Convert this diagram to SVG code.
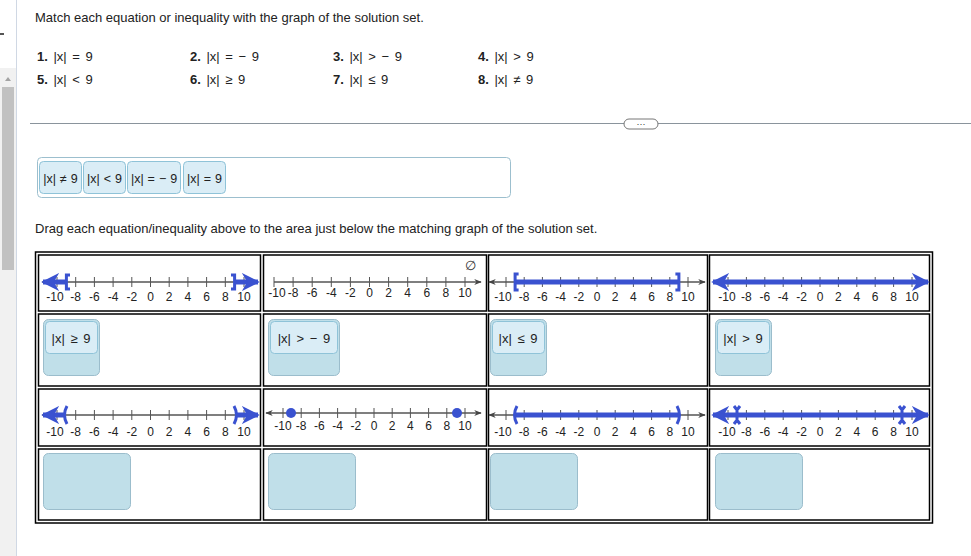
<svg xmlns="http://www.w3.org/2000/svg" width="971" height="556" viewBox="0 0 971 556">
<style>
text{font-family:"Liberation Sans",Arial,sans-serif;fill:#222}
.t{font-size:13px}
.e{font-size:13px;word-spacing:2px}
.c{font-size:12.5px;word-spacing:0.5px}
.b{font-weight:bold}
.lab{font-size:12px;fill:#444;text-anchor:middle}
.cell{fill:#fff;stroke:#000;stroke-width:1.5}
.ax{stroke:#555;stroke-width:1.5}
.tk{stroke:#555;stroke-width:1}
.bl{stroke:#3a52d0;stroke-width:5}
.blt{stroke:#3a52d0;stroke-width:3;fill:none}
.card{fill:#daedf6;stroke:#8fc3d8;stroke-width:1}
.slot{fill:#c0dfe9;stroke:#9bbdcc;stroke-width:1}
</style>
<defs>
<marker id="ga" viewBox="0 0 10 10" refX="9" refY="5" markerWidth="5" markerHeight="5" orient="auto-start-reverse"><path d="M0,1 L10,5 L0,9 L3,5z" fill="#444"/></marker>
<marker id="ba" viewBox="0 0 10 10" refX="9" refY="5" markerWidth="3.6" markerHeight="3.6" orient="auto-start-reverse"><path d="M0,0 L10,5 L0,10 L3,5z" fill="#3a52d0"/></marker>
</defs>
<rect width="971" height="556" fill="#fff"/>
<rect x="0" y="68" width="16" height="488" fill="#f1f1f1"/>
<line x1="16.5" y1="0" x2="16.5" y2="556" stroke="#d0d8e4"/>
<rect x="2" y="87" width="12" height="183" fill="#c1c1c1"/>
<path d="M5,81 L8,77 L11,81z" fill="#a3a3a3"/>
<line x1="0" y1="34" x2="4" y2="34" stroke="#555" stroke-width="2"/>

<text class="t" x="35" y="22">Match each equation or inequality with the graph of the solution set.</text>
<g class="e">
<text x="37" y="61"><tspan class="b">1.</tspan> |x| = 9</text>
<text x="190" y="61"><tspan class="b">2.</tspan> |x| = − 9</text>
<text x="333" y="61"><tspan class="b">3.</tspan> |x| &gt; − 9</text>
<text x="478" y="61"><tspan class="b">4.</tspan> |x| &gt; 9</text>
<text x="37" y="84"><tspan class="b">5.</tspan> |x| &lt; 9</text>
<text x="190" y="84"><tspan class="b">6.</tspan> |x| ≥ 9</text>
<text x="333" y="84"><tspan class="b">7.</tspan> |x| ≤ 9</text>
<text x="478" y="84"><tspan class="b">8.</tspan> |x| ≠ 9</text>
</g>
<line x1="30" y1="123.5" x2="971" y2="123.5" stroke="#8a949c"/>
<rect x="624" y="119" width="34" height="10" rx="5" fill="#fff" stroke="#777"/>
<text x="641" y="127" font-size="9" text-anchor="middle" style="fill:#333">···</text>

<g id="bank">
<rect x="37.5" y="157.5" width="473" height="40" rx="4" fill="#fff" stroke="#9cbfce"/>
<rect class="card" x="39.5" y="161.5" width="42" height="32" rx="4"/><text class="c" x="60.5" y="183" text-anchor="middle">|x| ≠ 9</text>
<rect class="card" x="83.5" y="161.5" width="42" height="32" rx="4"/><text class="c" x="104.5" y="183" text-anchor="middle">|x| &lt; 9</text>
<rect class="card" x="127.5" y="161.5" width="53" height="32" rx="4"/><text class="c" x="154" y="183" text-anchor="middle">|x| = − 9</text>
<rect class="card" x="183.5" y="161.5" width="42" height="32" rx="4"/><text class="c" x="204.5" y="183" text-anchor="middle">|x| = 9</text>
</g>
<text class="t" x="35" y="233">Drag each equation/inequality above to the area just below the matching graph of the solution set.</text>

<g id="table">
<rect x="35.5" y="252" width="897" height="271" fill="#fff" stroke="#000" stroke-width="1.5"/>
<rect class="cell" x="38.5" y="255" width="222" height="56"/>
<rect class="cell" x="263.5" y="255" width="223" height="56"/>
<rect class="cell" x="488.5" y="255" width="219" height="56"/>
<rect class="cell" x="709.5" y="255" width="220" height="56"/>
<rect class="cell" x="38.5" y="314" width="222" height="72"/>
<rect class="cell" x="263.5" y="314" width="223" height="72"/>
<rect class="cell" x="488.5" y="314" width="219" height="72"/>
<rect class="cell" x="709.5" y="314" width="220" height="72"/>
<rect class="cell" x="38.5" y="389" width="222" height="57"/>
<rect class="cell" x="263.5" y="389" width="223" height="57"/>
<rect class="cell" x="488.5" y="389" width="219" height="57"/>
<rect class="cell" x="709.5" y="389" width="220" height="57"/>
<rect class="cell" x="38.5" y="449" width="222" height="71"/>
<rect class="cell" x="263.5" y="449" width="223" height="71"/>
<rect class="cell" x="488.5" y="449" width="219" height="71"/>
<rect class="cell" x="709.5" y="449" width="220" height="71"/>
</g>

<g id="g1">
<line class="ax" x1="42" y1="282" x2="258" y2="282"/>
<path class="tk" d="M57,277v10M75.7,277v10M94.4,277v10M113.1,277v10M131.8,277v10M150.5,277v10M169.2,277v10M187.9,277v10M206.6,277v10M225.3,277v10M244,277v10"/>
<line class="bl" x1="66.4" y1="282" x2="43" y2="282" marker-end="url(#ba)"/>
<line class="bl" x1="234.6" y1="282" x2="258" y2="282" marker-end="url(#ba)"/>
<path class="blt" d="M70,275h-3.6v14h3.6M231,275h3.6v14h-3.6"/>
<g class="lab"><text x="55" y="301">-10</text><text x="75.7" y="301">-8</text><text x="94.4" y="301">-6</text><text x="113.1" y="301">-4</text><text x="131.8" y="301">-2</text><text x="150.5" y="301">0</text><text x="169.2" y="301">2</text><text x="187.9" y="301">4</text><text x="206.6" y="301">6</text><text x="225.3" y="301">8</text><text x="244" y="301">10</text></g>
</g>
<g id="g2">
<line class="ax" x1="274" y1="282" x2="481" y2="282" marker-end="url(#ga)"/>
<path class="tk" d="M274,277v10M293.1,277v10M312.2,277v10M331.3,277v10M350.4,277v10M369.5,277v10M388.6,277v10M407.7,277v10M426.8,277v10M445.9,277v10M465,277v10"/>
<text x="470" y="270" font-size="13" text-anchor="middle" style="fill:#333">∅</text>
<g class="lab"><text x="277" y="297">-10</text><text x="293.1" y="297">-8</text><text x="312.2" y="297">-6</text><text x="331.3" y="297">-4</text><text x="350.4" y="297">-2</text><text x="369.5" y="297">0</text><text x="388.6" y="297">2</text><text x="407.7" y="297">4</text><text x="426.8" y="297">6</text><text x="445.9" y="297">8</text><text x="465" y="297">10</text></g>
</g>
<g id="g3">
<line class="ax" x1="489" y1="282" x2="705" y2="282" marker-start="url(#ga)" marker-end="url(#ga)"/>
<path class="tk" d="M506,277v10M524.2,277v10M542.4,277v10M560.6,277v10M578.8,277v10M597,277v10M615.2,277v10M633.4,277v10M651.6,277v10M669.8,277v10M688,277v10"/>
<line class="bl" x1="515" y1="282" x2="679" y2="282"/>
<path class="blt" d="M518.6,274h-3.5v16h3.5M675.4,274h3.5v16h-3.5"/>
<g class="lab"><text x="503" y="301">-10</text><text x="524.2" y="301">-8</text><text x="542.4" y="301">-6</text><text x="560.6" y="301">-4</text><text x="578.8" y="301">-2</text><text x="597" y="301">0</text><text x="615.2" y="301">2</text><text x="633.4" y="301">4</text><text x="651.6" y="301">6</text><text x="669.8" y="301">8</text><text x="688" y="301">10</text></g>
</g>
<g id="g4">
<path class="tk" d="M728,277v10M746.4,277v10M764.8,277v10M783.2,277v10M801.6,277v10M820,277v10M838.4,277v10M856.8,277v10M875.2,277v10M893.6,277v10M912,277v10"/>
<line class="bl" x1="713" y1="282" x2="928" y2="282" marker-start="url(#ba)" marker-end="url(#ba)"/>
<g class="lab"><text x="727" y="301">-10</text><text x="746.4" y="301">-8</text><text x="764.8" y="301">-6</text><text x="783.2" y="301">-4</text><text x="801.6" y="301">-2</text><text x="820" y="301">0</text><text x="838.4" y="301">2</text><text x="856.8" y="301">4</text><text x="875.2" y="301">6</text><text x="893.6" y="301">8</text><text x="912" y="301">10</text></g>
</g>

<g id="g5">
<line class="ax" x1="42" y1="415" x2="258" y2="415"/>
<path class="tk" d="M57,410v10M75.7,410v10M94.4,410v10M113.1,410v10M131.8,410v10M150.5,410v10M169.2,410v10M187.9,410v10M206.6,410v10M225.3,410v10M244,410v10"/>
<line class="bl" x1="65" y1="415" x2="43" y2="415" marker-end="url(#ba)"/>
<line class="bl" x1="236" y1="415" x2="258" y2="415" marker-end="url(#ba)"/>
<path class="blt" d="M67,406q-5,9 0,18M234,406q5,9 0,18"/>
<g class="lab"><text x="55" y="436">-10</text><text x="75.7" y="436">-8</text><text x="94.4" y="436">-6</text><text x="113.1" y="436">-4</text><text x="131.8" y="436">-2</text><text x="150.5" y="436">0</text><text x="169.2" y="436">2</text><text x="187.9" y="436">4</text><text x="206.6" y="436">6</text><text x="225.3" y="436">8</text><text x="244" y="436">10</text></g>
</g>
<g id="g6">
<line class="ax" x1="266" y1="413" x2="481" y2="413" marker-start="url(#ga)" marker-end="url(#ga)"/>
<path class="tk" d="M283,408v10M301.2,408v10M319.4,408v10M337.6,408v10M355.8,408v10M374,408v10M392.2,408v10M410.4,408v10M428.6,408v10M446.8,408v10M465,408v10"/>
<circle cx="291" cy="413" r="5" fill="#3a52d0"/>
<circle cx="457" cy="413" r="5" fill="#3a52d0"/>
<g class="lab"><text x="283" y="430">-10</text><text x="301.2" y="430">-8</text><text x="319.4" y="430">-6</text><text x="337.6" y="430">-4</text><text x="355.8" y="430">-2</text><text x="374" y="430">0</text><text x="392.2" y="430">2</text><text x="410.4" y="430">4</text><text x="428.6" y="430">6</text><text x="446.8" y="430">8</text><text x="465" y="430">10</text></g>
</g>
<g id="g7">
<line class="ax" x1="489" y1="415" x2="705" y2="415" marker-start="url(#ga)" marker-end="url(#ga)"/>
<path class="tk" d="M506,410v10M524.2,410v10M542.4,410v10M560.6,410v10M578.8,410v10M597,410v10M615.2,410v10M633.4,410v10M651.6,410v10M669.8,410v10M688,410v10"/>
<line class="bl" x1="515" y1="415" x2="679" y2="415"/>
<path class="blt" d="M517,406q-5,9 0,18M677,406q5,9 0,18"/>
<g class="lab"><text x="503" y="436">-10</text><text x="524.2" y="436">-8</text><text x="542.4" y="436">-6</text><text x="560.6" y="436">-4</text><text x="578.8" y="436">-2</text><text x="597" y="436">0</text><text x="615.2" y="436">2</text><text x="633.4" y="436">4</text><text x="651.6" y="436">6</text><text x="669.8" y="436">8</text><text x="688" y="436">10</text></g>
</g>
<g id="g8">
<path class="tk" d="M728,410v10M746.4,410v10M764.8,410v10M783.2,410v10M801.6,410v10M820,410v10M838.4,410v10M856.8,410v10M875.2,410v10M893.6,410v10M912,410v10"/>
<line class="bl" x1="713" y1="415" x2="928" y2="415" marker-start="url(#ba)" marker-end="url(#ba)"/>
<path class="blt" d="M734,406l3,4l3,-4M737,410v10M734,424l3,-4l3,4M899,406l3,4l3,-4M902,410v10M899,424l3,-4l3,4"/>
<g class="lab"><text x="727" y="436">-10</text><text x="746.4" y="436">-8</text><text x="764.8" y="436">-6</text><text x="783.2" y="436">-4</text><text x="801.6" y="436">-2</text><text x="820" y="436">0</text><text x="838.4" y="436">2</text><text x="856.8" y="436">4</text><text x="875.2" y="436">6</text><text x="893.6" y="436">8</text><text x="912" y="436">10</text></g>
</g>

<g id="s1"><rect class="slot" x="43.5" y="319.5" width="56" height="56" rx="5"/><rect class="card" x="45.5" y="321.5" width="52" height="32" rx="4"/><text class="e" x="71" y="343" text-anchor="middle">|x| ≥ 9</text></g>
<g id="s2"><rect class="slot" x="268.5" y="319.5" width="71" height="56" rx="5"/><rect class="card" x="270.5" y="321.5" width="67" height="32" rx="4"/><text class="e" x="304" y="343" text-anchor="middle">|x| &gt; − 9</text></g>
<g id="s3"><rect class="slot" x="490.5" y="319.5" width="56" height="56" rx="5"/><rect class="card" x="492.5" y="321.5" width="52" height="32" rx="4"/><text class="e" x="518" y="343" text-anchor="middle">|x| ≤ 9</text></g>
<g id="s4"><rect class="slot" x="715.5" y="319.5" width="56" height="56" rx="5"/><rect class="card" x="717.5" y="321.5" width="52" height="32" rx="4"/><text class="e" x="743" y="343" text-anchor="middle">|x| &gt; 9</text></g>
<g id="s5"><rect class="slot" x="43.5" y="453.5" width="87" height="56" rx="5"/></g>
<g id="s6"><rect class="slot" x="268.5" y="453.5" width="87" height="56" rx="5"/></g>
<g id="s7"><rect class="slot" x="490.5" y="453.5" width="87" height="56" rx="5"/></g>
<g id="s8"><rect class="slot" x="715.5" y="453.5" width="87" height="56" rx="5"/></g>
</svg>
